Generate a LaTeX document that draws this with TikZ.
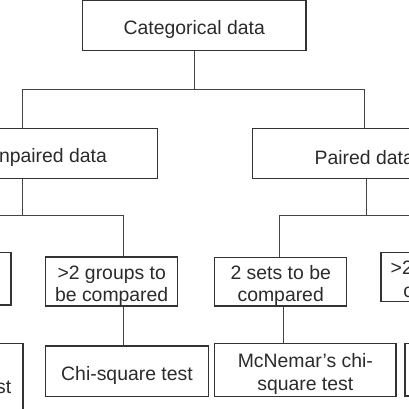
\documentclass[tikz,border=0pt]{standalone}
\usepackage{fontspec}
\setmainfont{Liberation Sans}
\usetikzlibrary{positioning,calc}
\definecolor{boxline}{HTML}{333333}
\definecolor{linkline}{HTML}{444444}
\definecolor{boxtext}{HTML}{2B2B2B}
\newcommand{\boxstrut}{\rule{0pt}{22pt}}
\tikzset{
  % boxes
  tb/.style={draw=boxline,line width=1.3pt,fill=white,inner sep=0pt,align=center,
             text=boxtext,font=\fontsize{19.4}{22.7}\selectfont},
  % links
  tl/.style={draw=linkline,line width=1pt},
}
\begin{document}
\begin{tikzpicture}[x=1pt,y=1pt]
  \useasboundingbox (0,0) rectangle (409,409);
  % level 1 and 2
  \node[tb,minimum width=223.7pt,minimum height=50.2pt] (cat) at (194.2,383.4) {\boxstrut Categorical data};
  \node[tb,minimum width=223.4pt,minimum height=50pt] (unp) at (46,255.7) {\boxstrut Unpaired data};
  \node[tb,minimum width=224pt,minimum height=50pt] (par) at (364.3,255.7) {\boxstrut Paired data};
  % level 3
  \node[tb,minimum width=160pt,minimum height=52.3pt] (ltwo) at (-69,130) {\boxstrut 2 groups to be\\compared};
  \node[tb,minimum width=132pt,minimum height=48.4pt] (gtwo) at (111.7,127.5) {\boxstrut >2 groups to\\be compared};
  \node[tb,minimum width=132pt,minimum height=48.7pt] (sets) at (280.7,127.4) {\boxstrut 2 sets to be\\compared};
  \node[tb,minimum width=131pt,minimum height=49pt] (rsets) at (446.5,131.8) {\boxstrut >2 sets to be\\compared};
  % level 4
  \node[tb,minimum width=180pt,minimum height=78pt] (fish) at (-67,26.5) {\boxstrut Fisher's exact test};
  \node[tb,minimum width=162.6pt,minimum height=50.7pt] (chi) at (127,37.7) {\boxstrut Chi-square test};
  \node[tb,minimum width=181.3pt,minimum height=53pt] (mcn) at (305.3,39.2) {\boxstrut McNemar's chi-\\square test};
  \node[tb,minimum width=160pt,minimum height=52.7pt] (coch) at (485,39.3) {\boxstrut Cochran's Q test};

  \coordinate (u1) at ([xshift=-23.3pt]unp.north);
  \coordinate (u2) at ([xshift=-23.3pt]unp.south);
  \coordinate (p2) at ([xshift=2.4pt]par.south);
  \coordinate (l1) at ([xshift=-9pt]ltwo.north);
  \coordinate (g1) at ([xshift=11.3pt]gtwo.north);
  \coordinate (g2) at ([xshift=11.3pt]gtwo.south);
  \coordinate (s1) at ([xshift=-1.7pt]sets.north);
  \coordinate (s2) at ([xshift=3pt]sets.south);

  \draw[tl] (cat.south) -- ++(0,-38.3) coordinate (bus1);
  \draw[tl] (u1) |- (bus1) -| (par.north);
  \draw[tl] (u2) -- ++(0,-36.7) coordinate (bus2);
  \draw[tl] (l1) |- (bus2) -| (g1);
  \draw[tl] (p2) -- ++(0,-36.7) coordinate (bus3);
  \draw[tl] (s1) |- (bus3) -| (rsets.north);
  \draw[tl] (ltwo.south) -- (ltwo.south |- fish.north);
  \draw[tl] (g2) -- (g2 |- chi.north);
  \draw[tl] (s2) -- (s2 |- mcn.north);
  \draw[tl] (rsets.south) -- (rsets.south |- coch.north);
\end{tikzpicture}
\end{document}
